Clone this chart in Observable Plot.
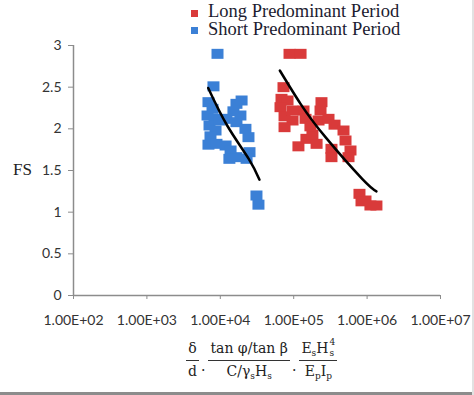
<!DOCTYPE html>
<html>
<head>
<meta charset="utf-8">
<script src="https://cdn.jsdelivr.net/npm/d3@7"></script>
<script src="https://cdn.jsdelivr.net/npm/@observablehq/plot@0.6"></script>
<style>
  html, body { margin: 0; padding: 0; background: #fff; }
  #wrap { position: relative; width: 474px; height: 395px; overflow: hidden; background: #fff; }
  #chart { position: absolute; left: 0; top: 0; }
  .leg { position: absolute; font-family: "Liberation Serif", serif; font-size: 18.5px; color: #1c1c30; white-space: nowrap; line-height: 0.95; }
  .sw { position: absolute; width: 7px; height: 7px; }
  #ylab { position: absolute; left: 13px; top: 160px; font-family: "Liberation Serif", serif; font-size: 17px; color: #222; }
  #formula { position: absolute; left: 186px; top: 341px; font-family: "DejaVu Serif", serif; font-size: 14px; color: #222; display: flex; align-items: center; }
  .frac { display: inline-flex; flex-direction: column; align-items: stretch; text-align: center; }
  .frac .num { padding: 0 2px 3px 2px; line-height: 1.1; height: 16px; white-space: nowrap; }
  .frac .den { border-top: 1.2px solid #333; padding: 3px 2px 0 2px; line-height: 1.1; height: 17px; white-space: nowrap; }
  .dot { padding: 10px 3px 0 2px; }
  sub { font-size: 9px; vertical-align: -3px; line-height: 0; }
  .ss { display: inline-block; position: relative; width: 7px; height: 10px; font-size: 9px; }
  .ss .sp { position: absolute; left: 1px; top: -5px; line-height: 1; }
  .ss .sb { position: absolute; left: 1px; top: 6px; line-height: 1; }
  #bb { position: absolute; left: 0; top: 392px; width: 474px; height: 3px; background: #8c8c8c; }
  #rb { position: absolute; left: 472px; top: 0; width: 2px; height: 395px; background: #e2e2e2; }
</style>
</head>
<body>
<div id="wrap">
  <div id="chart"></div>
  <div class="sw" style="left:191px;top:10px;background:#d93a3a"></div>
  <div class="leg" style="left:208px;top:3px">Long Predominant Period</div>
  <div class="sw" style="left:191px;top:27px;background:#3b80d6"></div>
  <div class="leg" style="left:208px;top:21px">Short Predominant Period</div>
  <div id="ylab">FS</div>
  <div id="formula">
    <span class="frac"><span class="num">δ</span><span class="den">d</span></span>
    <span class="dot">.</span>
    <span class="frac"><span class="num">tan φ/tan β</span><span class="den">C/γ<sub>s</sub>H<sub>s</sub></span></span>
    <span class="dot">.</span>
    <span class="frac"><span class="num">E<sub>s</sub>H<span class="ss"><span class="sp">4</span><span class="sb">s</span></span></span><span class="den">E<sub>p</sub>I<sub>p</sub></span></span>
  </div>
  <div id="bb"></div>
  <div id="rb"></div>
</div>
<script>
// Short predominant period (blue)
const shortX = [9.16e3, 8.07e3, 6.90e3, 7.83e3, 6.70e3, 8.34e3, 7.13e3, 8.61e3, 7.35e3, 6.90e3, 8.87e3,
  1.66e4, 1.51e4, 1.88e4, 1.66e4, 2.20e4, 2.42e4, 1.18e4, 1.38e4, 1.66e4, 1.33e4, 2.50e4, 2.28e4,
  3.11e4, 3.31e4, 9.75e3, 1.21e4, 1.95e4];
const shortY = [2.90, 2.51, 2.32, 2.24, 2.16, 2.12, 2.04, 1.98, 1.91, 1.81, 1.82,
  2.30, 2.21, 2.16, 2.08, 2.00, 1.90, 1.80, 1.74, 1.66, 1.64, 1.72, 1.64,
  1.20, 1.09, 2.10, 2.12, 2.34];
// Long predominant period (red)
const longX = [8.77e4, 1.24e5, 7.26e4, 6.82e4, 8.24e4, 6.61e4, 7.50e4, 9.64e4, 7.50e4, 1.36e5, 1.45e5,
  2.39e5, 2.32e5, 2.18e5, 2.98e5, 3.60e5, 1.16e5, 1.49e5, 2.05e5, 1.80e5, 3.27e5, 3.27e5,
  4.77e5, 5.08e5, 5.94e5, 5.58e5, 7.87e5, 9.51e5, 1.11e6, 1.34e6, 8.39e5, 9.64e4, 1.69e5];
const longY = [2.90, 2.90, 2.50, 2.36, 2.34, 2.26, 2.15, 2.10, 2.02, 2.22, 2.12,
  2.32, 2.22, 2.10, 2.12, 2.05, 1.79, 1.88, 1.82, 1.93, 1.76, 1.66,
  1.98, 1.86, 1.74, 1.66, 1.22, 1.14, 1.08, 1.08, 1.13, 2.22, 2.03];
// Trend lines
const shortTrendX = [6.84e3, 1.24e4, 2.44e4, 3.42e4];
const shortTrendY = [2.49, 2.04, 1.64, 1.39];
const longTrendX = [6.47e4, 1.24e5, 2.71e5, 8.57e5, 1.34e6];
const longTrendY = [2.70, 2.30, 1.90, 1.40, 1.25];
// Axis ticks
const xTicks = [1e2, 1e3, 1e4, 1e5, 1e6, 1e7];
const xTickLabels = ["1.00E+02", "1.00E+03", "1.00E+04", "1.00E+05", "1.00E+06", "1.00E+07"];
const yTicks = [0, 0.5, 1, 1.5, 2, 2.5, 3];
const yTickLabels = ["0", "0.5", "1", "1.5", "2", "2.5", "3"];

const shortPts = shortX.map((x, i) => ({x, y: shortY[i]}));
const longPts = longX.map((x, i) => ({x, y: longY[i]}));
const shortTrend = shortTrendX.map((x, i) => ({x, y: shortTrendY[i]}));
const longTrend = longTrendX.map((x, i) => ({x, y: longTrendY[i]}));

const rectSym = { draw(ctx, size) { ctx.rect(-6, -5, 12, 10); } };

const chart = Plot.plot({
  width: 474, height: 330,
  marginLeft: 73, marginRight: 34, marginTop: 45, marginBottom: 35,
  x: {type: "log", domain: [1e2, 1e7], axis: null},
  y: {domain: [0, 3], axis: null},
  style: {fontFamily: "Lato, sans-serif", fontSize: "14px", color: "#333", background: "transparent", overflow: "visible"},
  marks: [
    Plot.axisY({ticks: yTicks, tickFormat: d => yTickLabels[yTicks.indexOf(d)], tickSize: 5, tickPadding: 7, stroke: "#8c8c8c", fontSize: 14, label: null}),
    Plot.axisX({ticks: xTicks, tickFormat: d => xTickLabels[xTicks.indexOf(d)], tickSize: 4, tickPadding: 16, stroke: "#8c8c8c", fontSize: 14, label: null}),
    Plot.ruleX([1e2], {y1: 0, y2: 3, stroke: "#8c8c8c", strokeWidth: 1.5}),
    Plot.ruleY([0], {x1: 1e2, x2: 1e7, stroke: "#8c8c8c", strokeWidth: 1.5}),
    Plot.dot(shortPts, {x: "x", y: "y", symbol: rectSym, fill: "#3b80d6", stroke: "none", r: 5}),
    Plot.dot(longPts, {x: "x", y: "y", symbol: rectSym, fill: "#d93a3a", stroke: "none", r: 5}),
    Plot.line(shortTrend, {x: "x", y: "y", stroke: "#000", strokeWidth: 2.5, curve: "natural"}),
    Plot.line(longTrend, {x: "x", y: "y", stroke: "#000", strokeWidth: 2.5, curve: "natural"})
  ]
});
document.getElementById("chart").appendChild(chart);
</script>
</body>
</html>
